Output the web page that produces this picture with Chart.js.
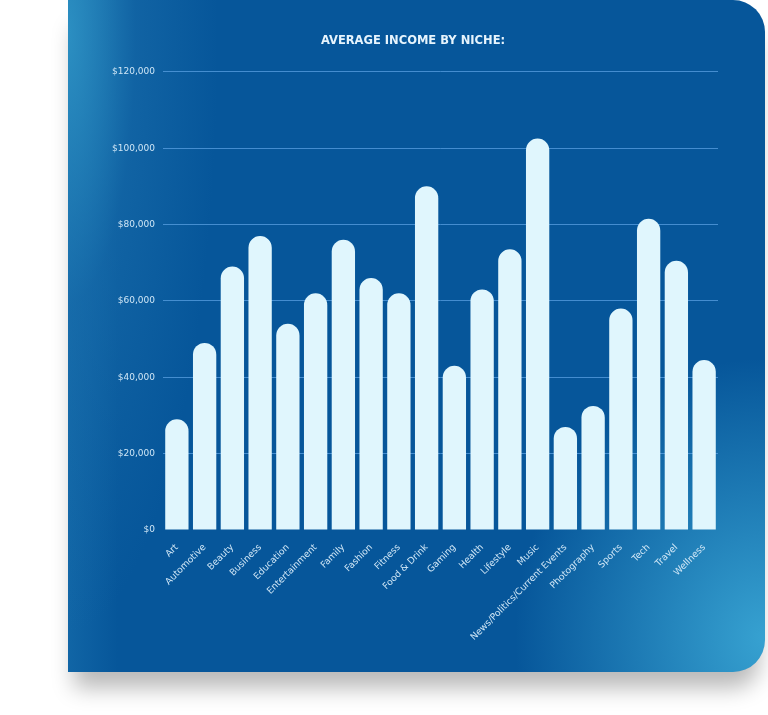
<!DOCTYPE html>
<html>
<head>
<meta charset="utf-8">
<script src="https://cdn.jsdelivr.net/npm/chart.js@4/dist/chart.umd.min.js"></script>
<style>
  html, body { margin: 0; padding: 0; background: #ffffff; }
  body { width: 768px; height: 715px; position: relative; overflow: hidden; }
  .card {
    position: absolute; left: 68px; top: 0; width: 697px; height: 672px;
    border-radius: 0 32px 32px 0;
    background:
      radial-gradient(ellipse 250px 280px at 100% 95%, rgba(60,170,215,0.9), rgba(60,170,215,0) 100%),
      radial-gradient(ellipse 150px 600px at 0% 5%, rgba(45,145,195,0.95), rgba(30,115,175,0.45) 45%, rgba(8,85,152,0) 100%),
      linear-gradient(to right, rgba(30,120,180,0.45) 0px, rgba(8,85,152,0) 50px),
      #06569a;
    box-shadow: 0 22px 22px -6px rgba(0,0,0,0.28);
  }
  #wrap { position: absolute; left: 0; top: 0; width: 768px; height: 715px; }
</style>
</head>
<body>
<div class="card"></div>
<div id="wrap"><canvas id="playground" width="768" height="715"></canvas></div>
<script>
// average income by niche

const niches = [
  'Art', 'Automotive', 'Beauty', 'Business', 'Education', 'Entertainment',
  'Family', 'Fashion', 'Fitness', 'Food & Drink', 'Gaming', 'Health',
  'Lifestyle', 'Music', 'News/Politics/Current Events', 'Photography',
  'Sports', 'Tech', 'Travel', 'Wellness',
]

const avgIncome = [
  29000, 49000, 69000, 77000, 54000, 62000,
  76000, 66000, 62000, 90000, 43000, 63000,
  73500, 102500, 27000, 32500,
  58000, 81500, 70500, 44500,
]

const yTicks = [0, 20000, 40000, 60000, 80000, 100000, 120000]

const fontFamily = "'DejaVu Sans', 'Open Sans', sans-serif"

const ctx = document.getElementById('playground').getContext('2d')
const myChart = new Chart(ctx, {
  type: 'bar',
  data: {
    labels: niches,
    datasets: [
      {
        label: 'Average income',
        backgroundColor: '#e0f6fd',
        data: avgIncome,
        barPercentage: 0.84,
        categoryPercentage: 1,
        borderRadius: { topLeft: 12, topRight: 12 },
        borderSkipped: 'bottom',
      },
    ],
  },
  options: {
    responsive: false,
    animation: false,
    layout: {
      // left padding is mostly there to push the centred title over
      padding: { left: 108, right: 50, top: 0, bottom: 0 },
    },
    scales: {
      y: {
        min: 0,
        max: yTicks[yTicks.length - 1],
        afterFit: (scale) => { scale.width = 55 },
        afterBuildTicks: (scale) => {
          scale.ticks = yTicks.map((v) => ({ value: v }))
        },
        border: { display: false },
        grid: {
          color: (c) => (c.tick && c.tick.value === 0 ? 'rgba(0,0,0,0)' : 'rgba(90,160,225,0.75)'),
          lineWidth: 1,
          drawTicks: false,
        },
        ticks: {
          padding: 8,
          color: '#cfe6f6',
          font: { family: fontFamily, size: 9 },
          callback: (v) => '$' + Number(v).toLocaleString('en-US'),
        },
      },
      x: {
        afterFit: (scale) => { scale.height = 185 },
        border: { display: false },
        grid: { display: false },
        ticks: {
          minRotation: 45,
          maxRotation: 45,
          autoSkip: false,
          padding: 4,
          color: '#cfe6f6',
          font: { family: fontFamily, size: 9.2 },
        },
      },
    },
    plugins: {
      legend: { display: false },
      tooltip: { enabled: false },
      title: {
        display: true,
        text: 'AVERAGE INCOME BY NICHE:',
        color: '#e6f4fd',
        font: { family: fontFamily, size: 11.5, weight: 'bold' },
        padding: { top: 34, bottom: 24 },
      },
    },
  },
})
</script>
</body>
</html>
